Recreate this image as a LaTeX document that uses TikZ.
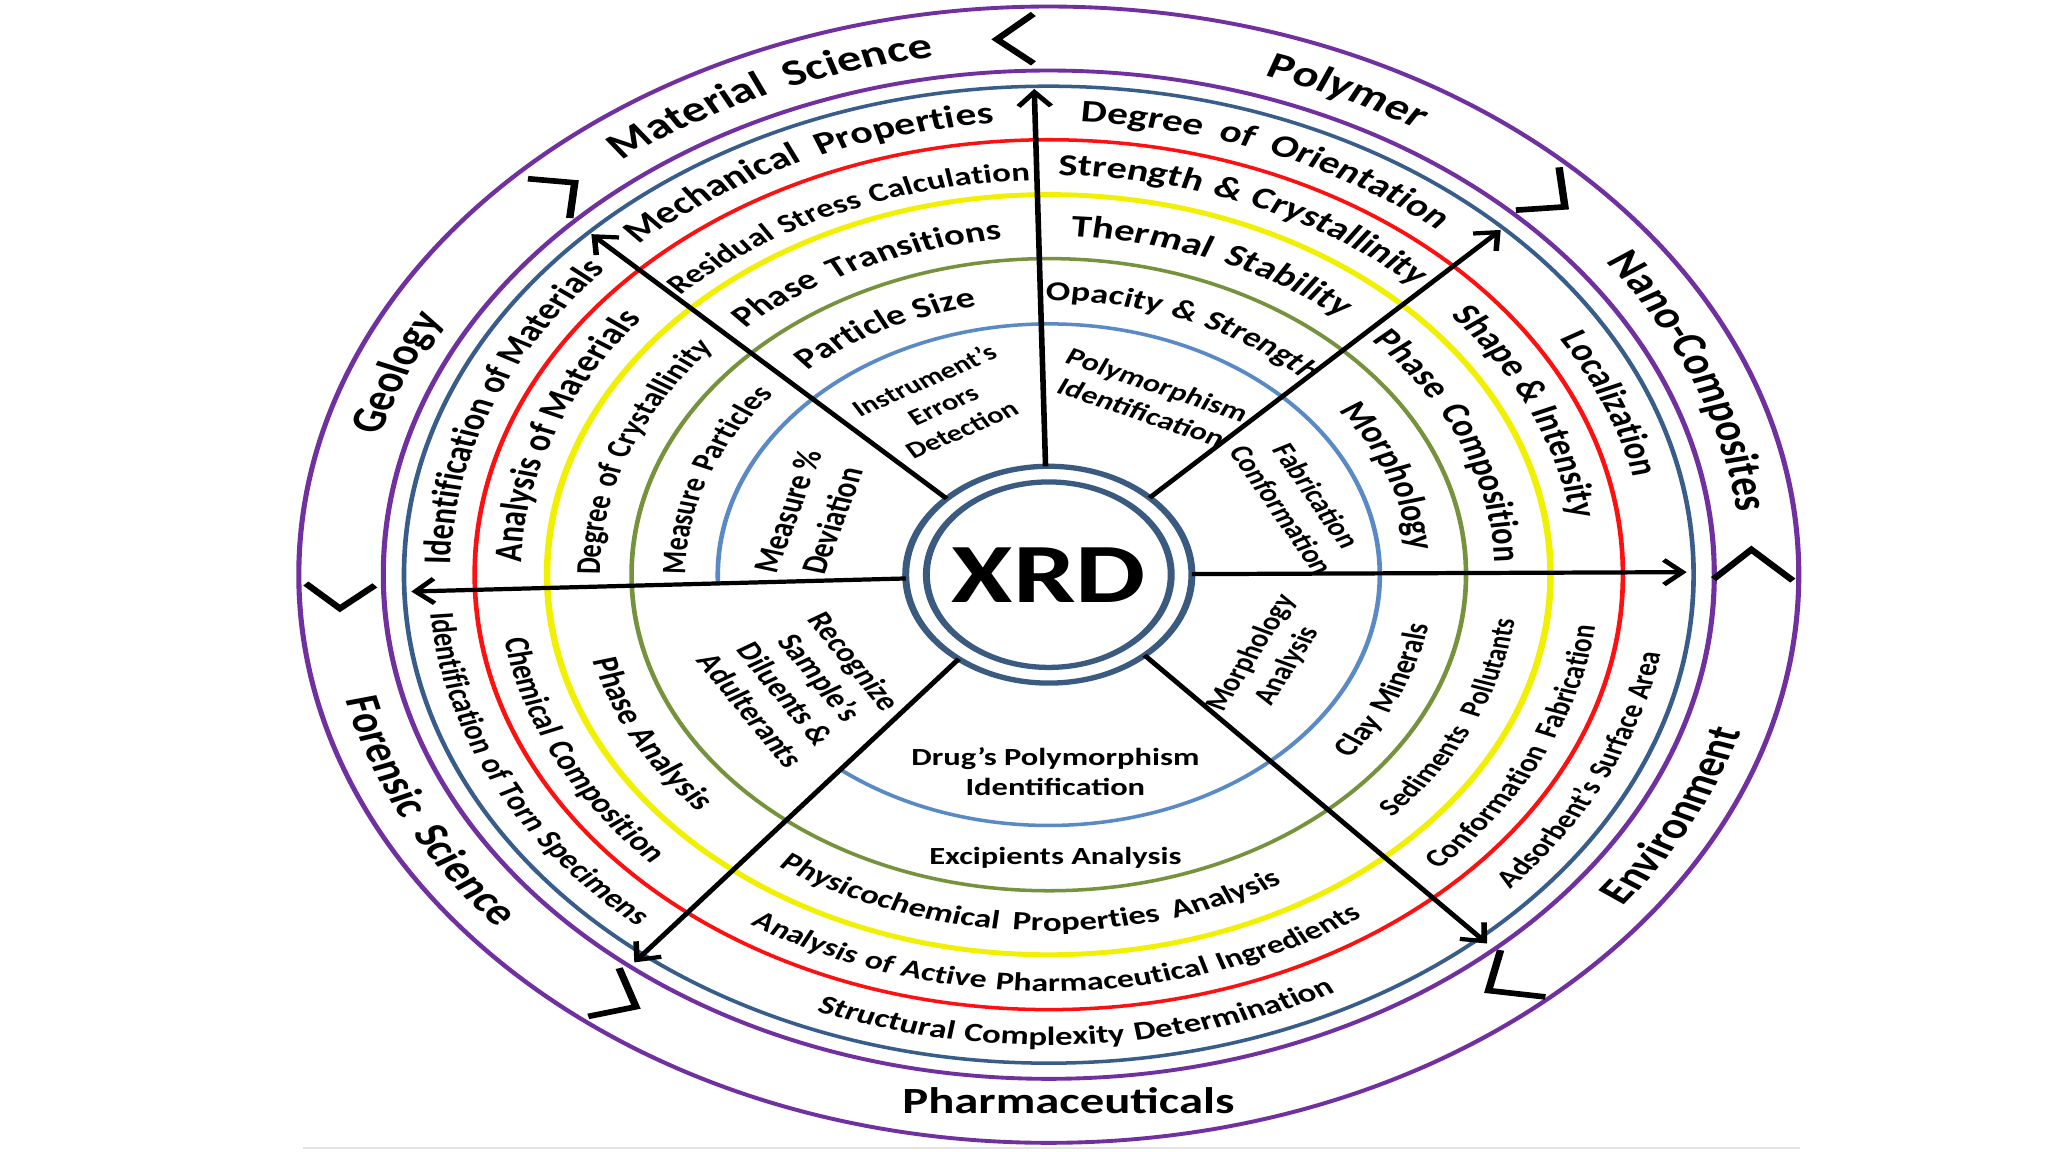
\documentclass[tikz,border=0pt]{standalone}
\usepackage{fontspec}
\setmainfont{Carlito}
\usetikzlibrary{decorations.text,arrows.meta}
\definecolor{ringpurple}{HTML}{7030A0}
\definecolor{ringdblue}{HTML}{385D8A}
\definecolor{ringred}{HTML}{FF1010}
\definecolor{ringyellow}{HTML}{F0F000}
\definecolor{ringolive}{HTML}{76923C}
\definecolor{ringlblue}{HTML}{5A8AC6}
\definecolor{coreblue}{HTML}{3A5A80}
\newcommand\fz[1]{\fontsize{#1}{#1}\selectfont\bfseries}
\newcommand\fzb[2]{\fontsize{#1}{#2}\selectfont\bfseries}
% clockwise arc text, fitted between two angles (tops outward)
\newcommand\cwfit[5]{\path[decorate,decoration={text along path,text align=fit to path stretching spaces,text={|\fz{#4}|#5}}] (#2:#1) arc[start angle=#2,end angle=#3,radius=#1];}
% clockwise arc text, centred on an angle
\newcommand\cwc[4]{\path[decorate,decoration={text along path,text align=center,text={|\fz{#3}|#4}}] ({#2+40}:#1) arc[start angle={#2+40},end angle={#2-40},radius=#1];}
% counter-clockwise arc text, fitted (tops inward)
\newcommand\ccwfit[5]{\path[decorate,decoration={text along path,text align=fit to path stretching spaces,text={|\fz{#4}|#5}}] (#2:#1) arc[start angle=#2,end angle=#3,radius=#1];}
% counter-clockwise arc text, centred
\newcommand\ccwc[4]{\path[decorate,decoration={text along path,text align=center,text={|\fz{#3}|#4}}] ({#2-40}:#1) arc[start angle={#2-40},end angle={#2+40},radius=#1];}
\begin{document}
\begin{tikzpicture}[x=0.01306cm,y=0.01306cm,
  ring/.style={line width=1pt},
  spoke/.style={line width=1.2pt,-{Straight Barb[length=4pt,width=7pt]}},
  chev/.style={line width=1.6pt,line join=miter},
  inlbl/.style={inner sep=0pt,align=center,text=black}]
\path[use as bounding box,fill=white] (-803,-442) rectangle (765,440);
\draw[gray!22,line width=0.8pt] (-571,-439) -- (575,-439);
\begin{scope}[transform canvas={xscale=1.32}]
  % rings
  \draw[ring,ringpurple,line width=1.1pt] (0,0) circle[radius=435];
  \draw[ring,ringpurple,line width=1.1pt] (0,0) circle[radius=386];
  \draw[ring,ringdblue] (0,0) circle[radius=374];
  \draw[ring,ringred] (0,0) circle[radius=333];
  \draw[ring,ringyellow,line width=1.4pt] (0,0) circle[radius=291];
  \draw[ring,ringolive] (0,0) circle[radius=242];
  \draw[ring,ringlblue] (-129:192) arc[start angle=-129,end angle=182,radius=192];
  \draw[coreblue,line width=1.5pt] (0,0) circle[radius=83];
  \draw[coreblue,line width=1.5pt] (0,0) circle[radius=71];
  \node[inner sep=0pt,font=\fz{24}] (xrd) at (0,0) {XRD};
  % spokes
  \foreach \n/\a/\r in {up/91.3/372,ul/135.5/372,lf/182/370,ll/231/382,lr/312/380,rt/0.3/370,ur/45.2/372}{
    \coordinate (\n0) at (\a:83);
    \coordinate (\n1) at (\a:\r);
    \draw[spoke] (\n0) -- (\n1);
  }
  % chevrons in the outer band
  \draw[chev] (91.2:429.4) -- (94.2:411) -- (91.3:391.6);
  \draw[chev] (134.9:428) -- (132.5:407) -- (135.5:389.6);
  \draw[chev] (46.5:430) -- (43.25:411) -- (45.85:389);
  \draw[chev] (-0.6:431.6) -- (2.7:408) -- (-0.5:385.6);
  \draw[chev] (180.9:431) -- (183.6:412) -- (181.2:391);
  \draw[chev] (230.4:391) -- (234.1:408.4) -- (231.7:431);
  \draw[chev] (312.35:389) -- (308.7:408) -- (311.7:433);
  % Material Science
  \cwfit{402}{128}{99.5}{10.5}{Material Science}
  \cwfit{347}{133.3}{95.2}{9}{Mechanical Properties}
  \cwfit{302}{135}{92}{7.5}{Residual Stress Calculation}
  \cwfit{258}{133}{96}{8.3}{Phase Transitions}
  \cwc{210}{116.6}{8.3}{Particle Size}
  \node[inlbl,rotate=30,font=\fzb{6.6}{8.1}] (instr) at (115.3:144) {Instrument’s\\Errors\\Detection};
  % Polymer
  \cwc{402}{64.9}{10.5}{Polymer}
  \cwfit{347}{87}{49.5}{8.9}{Degree of Orientation}
  \cwfit{306}{89}{46.1}{8.7}{Strength {\&} Crystallinity}
  \cwfit{259}{87.2}{49.3}{8.8}{Thermal Stability}
  \cwfit{210}{90.5}{44.5}{7.8}{Opacity {\&} Strength}
  \node[inlbl,rotate=-24,font=\fzb{7}{8.5}] (polyid) at (66.6:147) {Polymorphism\\Identification};
  % Nano-Composites
  \cwc{402}{21.7}{10.5}{Nano-Composites}
  \cwc{347}{21.9}{8.7}{Localization}
  \cwfit{306}{40.5}{8.1}{8.7}{Shape {\&} Intensity}
  \cwfit{259}{43.7}{2.1}{8.6}{Phase Composition}
  \cwc{210}{20.9}{8.5}{Morphology}
  \node[inlbl,rotate=-62,font=\fzb{7}{8.5}] (fabconf) at (20.7:155.5) {Fabrication\\Conformation};
  % Environment
  \ccwc{419}{-27}{10.5}{Environment}
  \ccwfit{360}{-42}{-9.6}{7.1}{Adsorbent’s Surface Area}
  \ccwfit{319.5}{-45}{-7.1}{7.2}{Conformation Fabrication}
  \ccwfit{272.5}{-43}{-7.3}{6.9}{Sediments Pollutants}
  \ccwfit{224}{-39}{-10}{7.4}{Clay Minerals}
  \node[inlbl,rotate=64,font=\fzb{7}{8.5}] (morphan) at (-26.9:143.6) {Morphology\\Analysis};
  % Pharmaceuticals
  \node[inlbl,font=\fz{10.5}] (pharm) at (11.4,-403) {Pharmaceuticals};
  \ccwfit{360.3}{248}{297.6}{7.5}{Structural Complexity Determination}
  \ccwfit{319}{237.2}{304.7}{7.3}{Analysis of Active Pharmaceutical Ingredients}
  \ccwfit{272.8}{235}{299.9}{7.5}{Physicochemical Properties Analysis}
  \node[inlbl,font=\fz{7}] (excip) at (3.8,-217) {Excipients Analysis};
  \node[inlbl,font=\fzb{7}{8.5}] (drug) at (3.8,-151) {Drug’s Polymorphism\\Identification};
  % Forensic Science
  \ccwfit{419}{193.2}{220.2}{10.5}{Forensic Science}
  \ccwfit{360}{184.7}{228.5}{7.5}{Identification of Torn Specimens}
  \ccwfit{319.5}{188.9}{223.9}{7.7}{Chemical Composition}
  \ccwfit{272.5}{194}{221.8}{8}{Phase Analysis}
  \node[inlbl,rotate=-58,font=\fzb{7.5}{8.8}] (recog) at (210.8:166) {Recognize\\Sample’s\\Diluents \&\\Adulterants};
  % Geology
  \cwc{402}{157.8}{10.5}{Geology}
  \cwfit{347}{178.7}{137.7}{8.5}{Identification of Materials}
  \cwfit{306}{178.2}{140.3}{8.6}{Analysis of Materials}
  \cwfit{260.3}{180}{138.2}{7.5}{Degree of Crystallinity}
  \cwfit{210.7}{180}{139.1}{7.4}{Measure Particles}
  \node[inlbl,rotate=74,font=\fzb{7.8}{10}] (measdev) at (162:145.7) {Measure \%\\Deviation};
\end{scope}
\end{tikzpicture}
\end{document}
